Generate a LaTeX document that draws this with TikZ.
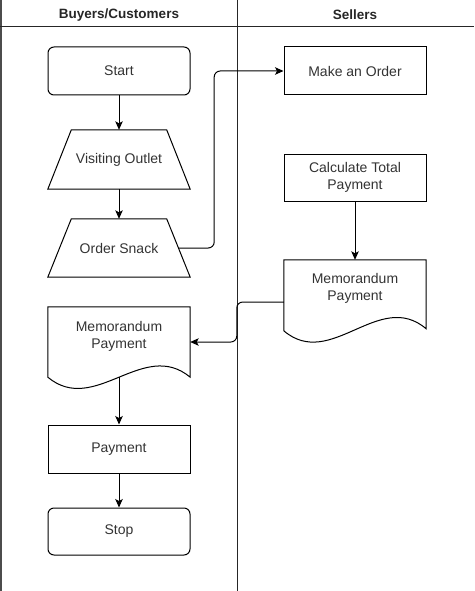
\documentclass[tikz,border=0pt]{standalone}
\usepackage{fontspec}
\setmainfont{Liberation Sans}
\usetikzlibrary{arrows.meta,calc}
\begin{document}
\begin{tikzpicture}[x=1pt,y=-1pt,
  base/.style={draw=black, line width=1pt, minimum width=142pt, text=black!80, font=\fontsize{14}{17.5}\selectfont, align=center, inner sep=0pt},
  term/.style={base, rectangle, rounded corners=6pt, minimum height=48pt},
  proc/.style={base, rectangle, minimum height=48pt},
  shp/.style={draw=none, rectangle, minimum width=142pt, inner sep=0pt},
  trap/.style={shp, text=black!80, font=\fontsize{14}{17.5}\selectfont, minimum height=59pt},
  txt/.style={text=black!80, align=center, font=\fontsize{14}{17.5}\selectfont, inner sep=0pt},
  outline/.style={line width=1pt, draw=black},
  arr/.style={-{Stealth[length=8.5pt,width=7.5pt,inset=2pt]}, line width=1pt, rounded corners=6pt},
  hdr/.style={font=\bfseries\fontsize{13.5}{16}\selectfont, text=black!85, inner sep=0pt},
  lane/.style={line width=1pt, draw=black!85}
]
\useasboundingbox (0,0) rectangle (474,591);
% lanes
\draw[line width=2.5pt, draw=black!70] (1,0) -- (1,591);
\draw[lane] (237,0) -- (237,591);
\draw[lane] (0,27) -- (474,27);
\node[hdr] (h1) at (119,15) {Buyers/Customers};
\node[hdr] (h2) at (355,15) {Sellers};

% left lane
\node[term] (start) at (119,71) {Start};
\node[trap] (vo) at (119,159.5) {Visiting Outlet};
\draw[outline] (vo.south west) -- (vo.south east) -- ($(vo.north east)+(-23.5,0)$) -- ($(vo.north west)+(23.5,0)$) -- cycle;
\node[trap, minimum height=58pt] (os) at (119,248) {Order Snack};
\draw[outline] (os.south west) -- (os.south east) -- ($(os.north east)+(-23.5,0)$) -- ($(os.north west)+(23.5,0)$) -- cycle;
\coordinate (osr) at ($(os.east)+(-11.75,0)$);
\node[shp, minimum height=70pt] (mL) at (119,342) {};
\node[txt] (mLt) at (119,336.5) {Memorandum\\Payment};
\draw[outline] (mL.north east) -- (mL.north west) -- (mL.south west)
  .. controls +(47,39) and ($(mL.south east)+(-47,-39)$) .. (mL.south east) -- cycle;
\node[proc] (pay) at (119,449) {Payment};
\node[term, minimum height=47pt] (stop) at (119,531.5) {Stop};

% right lane
\node[proc] (mo) at (355,71) {Make an Order};
\node[proc, minimum height=47pt] (calc) at (355,177.5) {Calculate Total\\Payment};
\node[shp, minimum height=84pt] (mR) at (355,302) {};
\node[txt] (mRt) at (355,288.5) {Memorandum\\Payment};
\draw[outline] (mR.north east) -- (mR.north west) -- ($(mR.north west)+(0,71)$)
  .. controls +(47,40) and ($(mR.north east)+(-47,29)$) .. ($(mR.north east)+(0,69)$) -- cycle;

% connectors
\draw[arr] (start) -- (vo.north);
\draw[arr] (vo) -- (os.north);
\draw[arr] (osr) -- ++(35.75,0) |- (mo.west);
\draw[arr] (calc) -- (mR.north);
\draw[arr] (mR.west) -- ++(-47,0) |- (mL.east);
\draw[arr] (mL.south) -- (pay);
\draw[arr] (pay) -- (stop);
\end{tikzpicture}
\end{document}
